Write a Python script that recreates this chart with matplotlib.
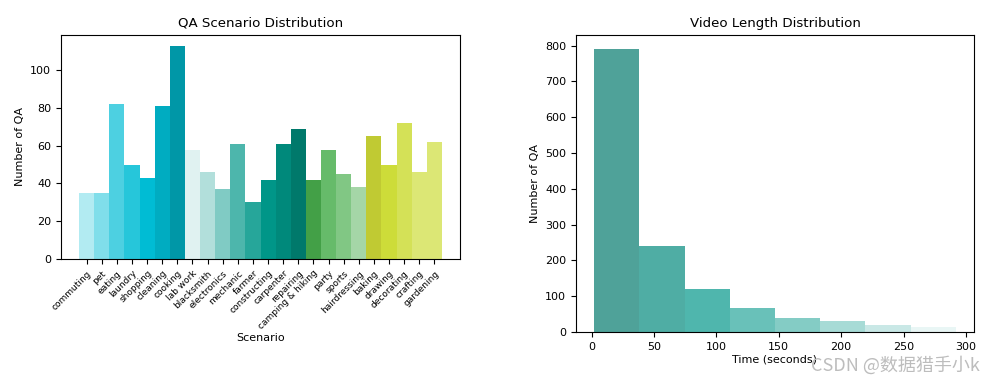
import matplotlib
matplotlib.use("Agg")
import matplotlib.pyplot as plt
import numpy as np

plt.rcParams['font.family'] = ['DejaVu Sans']

scenarios = ["commuting", "pet", "eating", "laundry", "shopping", "cleaning", "cooking",
             "lab work", "blacksmith", "electronics", "mechanic", "farmer", "constructing",
             "carpenter", "repairing", "camping & hiking", "party", "sports", "hairdressing",
             "baking", "drawing", "decorating", "crafting", "gardening"]
qa_counts = [35, 35, 82, 50, 43, 81, 113,
             58, 46, 37, 61, 30, 42, 61, 69,
             42, 58, 45, 38,
             65, 50, 72, 46, 62]
scenario_colors = ["#b2ebf2", "#80deea", "#4dd0e1", "#26c6da", "#00bcd4", "#00acc1", "#0097a7",
                   "#e0f2f1", "#b2dfdb", "#80cbc4", "#4db6ac", "#26a69a", "#009688", "#00897b", "#00796b",
                   "#43a047", "#66bb6a", "#81c784", "#a5d6a7",
                   "#c0ca33", "#cddc39", "#d4e157", "#dce775", "#dce775"]

bin_edges = [2.0, 38.25, 74.5, 110.75, 147.0, 183.25, 219.5, 255.75, 292.0]
length_counts = [790, 240, 120, 67, 40, 30, 20, 14]
hist_colors = ["#00796b", "#00897b", "#009688", "#26a69a", "#4db6ac", "#80cbc4", "#b2dfdb", "#e0f2f1"]

W, H = 982, 383
fig = plt.figure(figsize=(W / 100, H / 100), dpi=100)

# Left: QA scenario distribution
ax1 = fig.add_axes([61 / W, 1 - 259 / H, (460 - 61) / W, (259 - 35) / H])
x = np.arange(len(scenarios))
ax1.bar(x, qa_counts, width=1.0, color=scenario_colors)
ax1.set_xticks(x)
ax1.set_xticklabels(scenarios, rotation=45, ha='right', rotation_mode='anchor', fontsize=6.5)
ax1.tick_params(axis='y', labelsize=8)
ax1.set_xlabel("Scenario", fontsize=8, labelpad=1)
ax1.set_ylabel("Number of QA", fontsize=8)
ax1.set_title("QA Scenario Distribution", fontsize=9.6)
ax1.set_yticks([0, 20, 40, 60, 80, 100])

# Right: video length distribution
ax2 = fig.add_axes([576 / W, 1 - 332 / H, (974 - 576) / W, (332 - 35) / H])
edges = np.array(bin_edges)
widths = np.diff(edges)
ax2.bar(edges[:-1], length_counts, width=widths, align='edge', color=hist_colors, alpha=0.69)
ax2.set_xlabel("Time (seconds)", fontsize=8, labelpad=2)
ax2.set_ylabel("Number of QA", fontsize=8)
ax2.set_title("Video Length Distribution", fontsize=9.6)
ax2.tick_params(labelsize=8)
ax2.set_xticks([0, 50, 100, 150, 200, 250, 300])

for ax in (ax1, ax2):
    for s in ax.spines.values():
        s.set_linewidth(0.8)

fig.text(980 / W, 1 - 365 / H, "CSDN @数据猎手小k", fontsize=13, color="#bdbdbd",
         ha='right', va='center', family=['Noto Sans CJK SC', 'DejaVu Sans'])

fig.savefig("out.png", dpi=100)
